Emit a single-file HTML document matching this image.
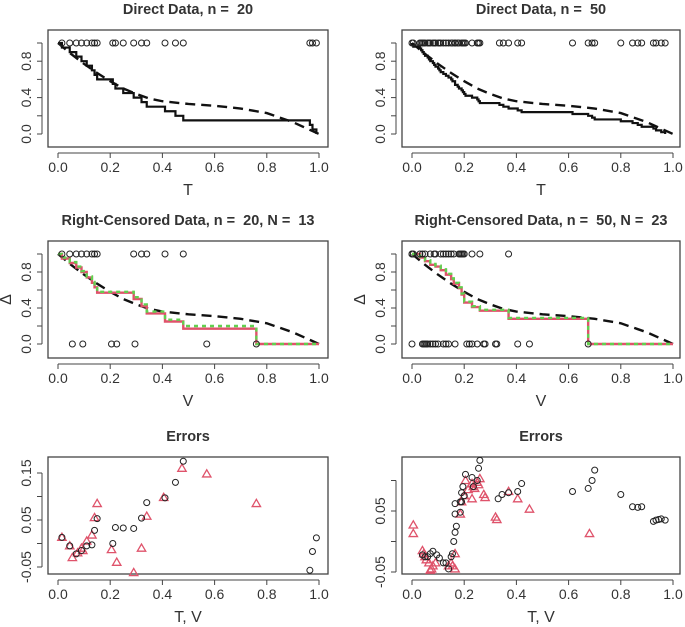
<!DOCTYPE html>
<html><head><meta charset="utf-8">
<style>
html,body{margin:0;padding:0;background:#fff;}
svg{display:block;font-family:"Liberation Sans",Arial,sans-serif;}
text{white-space:pre;}
</style></head>
<body>
<svg id="fig" width="685" height="627" viewBox="0 0 685 627" xmlns="http://www.w3.org/2000/svg"></svg>
<script>
// ---------- data ----------
const t20 = [0.015,0.045,0.07,0.09,0.11,0.13,0.14,0.15,0.21,0.22,0.25,0.29,0.32,0.34,0.41,0.45,0.48,0.965,0.975,0.99];
const t50 = [0.0,0.005,0.03,0.035,0.04,0.045,0.05,0.06,0.065,0.07,0.08,0.085,0.09,0.10,0.105,0.11,0.12,0.13,0.14,0.15,0.155,0.165,0.165,0.175,0.18,0.19,0.195,0.2,0.205,0.23,0.25,0.255,0.26,0.335,0.35,0.37,0.405,0.42,0.615,0.675,0.69,0.7,0.8,0.845,0.865,0.88,0.925,0.935,0.955,0.97];
const trueX = [0,0.05,0.1,0.15,0.2,0.25,0.3,0.35,0.4,0.5,0.6,0.7,0.8,0.9,1.0];
const trueY = [1,0.88,0.77,0.67,0.58,0.5,0.44,0.39,0.36,0.33,0.31,0.28,0.23,0.13,0];
// right-censored n=20
const v20Obs = [0.015,0.045,0.07,0.09,0.11,0.13,0.14,0.15,0.29,0.32,0.34,0.41,0.48];
const v20Cen = [0.055,0.095,0.205,0.225,0.295,0.57,0.76];
const km20T = [0,0.015,0.045,0.07,0.09,0.11,0.13,0.14,0.15,0.29,0.32,0.34,0.41,0.48,0.76,1.0];
const km20Red = [1,0.95,0.90,0.85,0.80,0.74,0.68,0.63,0.57,0.50,0.42,0.34,0.25,0.17,0,0];
const km20Green = [1,0.96,0.91,0.86,0.81,0.75,0.69,0.64,0.58,0.52,0.44,0.36,0.27,0.20,0,0];
// right-censored n=50
const v50Obs = [0.0,0.0,0.005,0.03,0.04,0.05,0.07,0.085,0.09,0.11,0.12,0.13,0.14,0.15,0.16,0.18,0.185,0.19,0.195,0.2,0.23,0.26,0.37];
const v50Cen = [0.0,0.04,0.045,0.05,0.055,0.06,0.07,0.08,0.09,0.1,0.12,0.13,0.14,0.165,0.21,0.22,0.23,0.25,0.275,0.28,0.32,0.325,0.405,0.45,0.675];
const km50T = [0,0.03,0.05,0.07,0.09,0.11,0.13,0.15,0.16,0.18,0.19,0.2,0.23,0.26,0.37,0.675,1.0];
const km50Red = [1,0.96,0.92,0.88,0.86,0.82,0.77,0.72,0.67,0.62,0.55,0.46,0.41,0.37,0.28,0,0];
const km50Green = [1,0.97,0.93,0.89,0.87,0.83,0.78,0.73,0.68,0.63,0.56,0.47,0.42,0.38,0.29,0,0];
// errors n=20
const err20BX = t20;
const err20BY = [0.013,-0.005,-0.022,-0.015,-0.005,-0.003,0.028,0.053,0.0,0.034,0.033,0.032,0.054,0.087,0.097,0.13,0.175,-0.057,-0.017,0.012];
const err20RX = [0.015,0.045,0.055,0.075,0.09,0.095,0.11,0.13,0.14,0.15,0.205,0.225,0.29,0.32,0.34,0.405,0.475,0.57,0.76];
const err20RY = [0.013,-0.005,-0.03,-0.02,-0.01,-0.015,0.005,0.018,0.055,0.085,-0.013,-0.04,-0.062,-0.01,0.058,0.098,0.16,0.148,0.085];
// errors n=50
const err50BX = [0.26,0.255,0.205,0.23,0.25,0.195,0.235,0.19,0.2,0.185,0.19,0.165,0.165,0.185,0.17,0.165,0.16,0.155,0.15,0.14,0.13,0.12,0.105,0.095,0.08,0.07,0.06,0.05,0.04,0.33,0.345,0.37,0.405,0.42,0.615,0.675,0.69,0.7,0.8,0.845,0.865,0.88,0.925,0.935,0.945,0.955,0.97];
const err50BY = [0.133,0.12,0.11,0.105,0.1,0.09,0.09,0.08,0.075,0.065,0.065,0.062,0.045,0.048,0.025,0.015,0.0,-0.02,-0.025,-0.045,-0.035,-0.035,-0.027,-0.022,-0.016,-0.02,-0.025,-0.025,-0.022,0.07,0.077,0.08,0.082,0.095,0.082,0.087,0.1,0.117,0.077,0.057,0.056,0.057,0.033,0.035,0.036,0.037,0.035];
const err50RX = [0.005,0.005,0.04,0.045,0.05,0.055,0.065,0.075,0.08,0.09,0.07,0.14,0.15,0.155,0.165,0.165,0.185,0.19,0.2,0.205,0.215,0.23,0.235,0.24,0.25,0.255,0.26,0.275,0.28,0.32,0.325,0.37,0.405,0.45,0.68,0.23];
const err50RY = [0.027,0.013,-0.015,-0.02,-0.025,-0.03,-0.035,-0.045,-0.04,-0.035,-0.047,-0.04,-0.035,-0.04,-0.045,-0.02,0.045,0.065,0.075,0.1,0.085,0.095,0.09,0.087,0.097,0.093,0.103,0.077,0.072,0.04,0.036,0.082,0.07,0.053,0.013,0.07];
const xTicks = [0,0.2,0.4,0.6,0.8,1.0];
const xTickLabels = ["0.0","0.2","0.4","0.6","0.8","1.0"];
const yTicks01 = [0,0.2,0.4,0.6,0.8,1.0];
const yTickLabels01 = {"0":"0.0","0.4":"0.4","0.8":"0.8"};

// ---------- drawing ----------
const NS = "http://www.w3.org/2000/svg";
const svg = document.getElementById("fig");
const RED = "#DF536B", GREEN = "#61D04F", TXT = "#333";
function mk(tag, attrs, parent){
  const e = document.createElementNS(NS, tag);
  for (const k in attrs) e.setAttribute(k, attrs[k]);
  (parent||svg).appendChild(e);
  return e;
}
function panel(o){
  const g = mk("g", {});
  
  
  const sx = v => o.x0 + (v - o.xd[0]) / (o.xd[1]-o.xd[0]) * (o.x1 - o.x0);
  const sy = v => o.y0 + (v - o.yd[0]) / (o.yd[1]-o.yd[0]) * (o.y1 - o.y0);
  const title = mk("text", {x:(o.bx0+o.bx1)/2, y:o.ty, "text-anchor":"middle", "font-size":"14.5", "font-weight":"bold", fill:TXT}, g);
  title.textContent = o.title;
  
  
  const box = mk("rect", {x:o.bx0, y:o.by0, width:o.bx1-o.bx0, height:o.by1-o.by0, fill:"none", stroke:"#444", "stroke-width":"1.3"}, g);
  
  
  const xa = mk("g", {}, g);
  
  
  mk("line", {x1:sx(0), x2:sx(1), y1:o.by1+6, y2:o.by1+6, stroke:"#444"}, xa);
  xTicks.forEach((t,i)=>{
    mk("line", {x1:sx(t), x2:sx(t), y1:o.by1+6, y2:o.by1+11, stroke:"#444"}, xa);
    const tl = mk("text", {x:sx(t), y:o.by1+25, "text-anchor":"middle", "font-size":"14", fill:TXT}, xa);
    tl.textContent = xTickLabels[i];
    
    
  });
  const xt = mk("text", {x:(o.bx0+o.bx1)/2, y:o.by1+48, "text-anchor":"middle", "font-size":"16", fill:TXT}, g);
  xt.textContent = o.xlab;
  
  
  const ya = mk("g", {}, g);
  
  
  const ax = o.bx0 - 6;
  mk("line", {x1:ax, x2:ax, y1:sy(o.yTicks[0]), y2:sy(o.yTicks[o.yTicks.length-1]), stroke:"#444"}, ya);
  o.yTicks.forEach(t=>{
    mk("line", {x1:ax-5, x2:ax, y1:sy(t), y2:sy(t), stroke:"#444"}, ya);
    const lab = o.yLabels[String(t)];
    if (lab){
      const tl = mk("text", {x:ax-11, y:sy(t), "text-anchor":"middle", "font-size":"14", fill:TXT, transform:`rotate(-90 ${ax-11} ${sy(t)})`}, ya);
      tl.textContent = lab;
      
      
    }
  });
  if (o.ylab){
    const yt = mk("text", {x:o.bx0-37, y:(o.by0+o.by1)/2, "text-anchor":"middle", "font-size":"16", fill:TXT, transform:`rotate(-90 ${o.bx0-37} ${(o.by0+o.by1)/2})`}, g);
    yt.textContent = o.ylab;
    
    
  }
  return {g, sx, sy};
}
function stepPath(xs, ys, sx, sy){
  let d = `M${sx(xs[0])},${sy(ys[0])}`;
  for (let i=1;i<xs.length;i++){ d += ` L${sx(xs[i])},${sy(ys[i-1])} L${sx(xs[i])},${sy(ys[i])}`; }
  return d;
}
function ecdfSteps(ts){
  const s = ts.slice().sort((a,b)=>a-b);
  const xs=[0], ys=[1];
  s.forEach((t,i)=>{ xs.push(t); ys.push(1-(i+1)/s.length); });
  return {xs, ys};
}
function linePath(xs, ys, sx, sy){
  return xs.map((x,i)=>(i?"L":"M")+sx(x)+","+sy(ys[i])).join(" ");
}
function circles(g, xs, ys, sx, sy, name){
  xs.forEach((x,i)=>{
    const c = mk("circle", {cx:sx(x), cy:sy(ys[i]), r:3, fill:"none", stroke:"#222", "stroke-width":"1"}, g);
    
    
  });
}
function triangles(g, xs, ys, sx, sy, name){
  xs.forEach((x,i)=>{
    const cx=sx(x), cy=sy(ys[i]);
    const p = mk("polygon", {points:`${cx},${cy-4.2} ${cx-4.2},${cy+3} ${cx+4.2},${cy+3}`, fill:"none", stroke:RED, "stroke-width":"1.3"}, g);
    
    
  });
}
function dashed(g, sx, sy){
  const p = mk("path", {d:linePath(trueX,trueY,sx,sy), fill:"none", stroke:"#111", "stroke-width":"2.4", "stroke-dasharray":"10 6"}, g);
  
  
}

const L = {bx0:48, bx1:328, x0:58, x1:319};
const R = {bx0:402, bx1:680, x0:412, x1:673};

[{c:L, t:t20, title:"Direct Data, n =  20", name:"panel-direct-20"},
 {c:R, t:t50, title:"Direct Data, n =  50", name:"panel-direct-50"}].forEach(s=>{
  const P = panel(Object.assign({}, s.c, {name:s.name, title:s.title, ty:14, by0:30, by1:147, y0:134, y1:43, xd:[0,1], yd:[0,1], yTicks:yTicks01, yLabels:yTickLabels01, xlab:"T"}));
  dashed(P.g, P.sx, P.sy);
  const st = ecdfSteps(s.t);
  const p = mk("path", {d:stepPath(st.xs, st.ys, P.sx, P.sy), fill:"none", stroke:"#111", "stroke-width":"2.2"}, P.g);
  
  
  circles(P.g, s.t, s.t.map(()=>1), P.sx, P.sy, 'observation-point');
});

[{c:L, obs:v20Obs, cen:v20Cen, kt:km20T, kr:km20Red, kg:km20Green, title:"Right-Censored Data, n =  20, N =  13", name:"panel-censored-20"},
 {c:R, obs:v50Obs, cen:v50Cen, kt:km50T, kr:km50Red, kg:km50Green, title:"Right-Censored Data, n =  50, N =  23", name:"panel-censored-50"}].forEach(s=>{
  const P = panel(Object.assign({}, s.c, {name:s.name, title:s.title, ty:225, by0:241, by1:358, y0:344, y1:254, xd:[0,1], yd:[0,1], yTicks:yTicks01, yLabels:yTickLabels01, xlab:"V", ylab:"Δ"}));
  dashed(P.g, P.sx, P.sy);
  const r = mk("path", {d:stepPath(s.kt, s.kr, P.sx, P.sy), fill:"none", stroke:RED, "stroke-width":"2.4"}, P.g);
  
  
  const gr = mk("path", {d:stepPath(s.kt, s.kg, P.sx, P.sy), fill:"none", stroke:GREEN, "stroke-width":"2.4", "stroke-dasharray":"4 4"}, P.g);
  
  
  circles(P.g, s.obs, s.obs.map(()=>1), P.sx, P.sy, 'uncensored-point');
  circles(P.g, s.cen, s.cen.map(()=>0), P.sx, P.sy, 'censored-point');
});

{
  const P = panel(Object.assign({}, L, {name:"panel-errors-20", title:"Errors", ty:441, by0:457, by1:574, y0:567, y1:473, xd:[0,1], yd:[-0.05,0.15], yTicks:[-0.05,0,0.05,0.1,0.15], yLabels:{"-0.05":"-0.05","0.05":"0.05","0.15":"0.15"}, xlab:"T, V"}));
  triangles(P.g, err20RX, err20RY, P.sx, P.sy, 'error-censored-triangle');
  circles(P.g, err20BX, err20BY, P.sx, P.sy, 'error-direct-circle');
}
{
  const P = panel(Object.assign({}, R, {name:"panel-errors-50", title:"Errors", ty:441, by0:457, by1:574, y0:572, y1:511, xd:[0,1], yd:[-0.05,0.05], yTicks:[-0.05,0,0.05,0.1], yLabels:{"-0.05":"-0.05","0.05":"0.05"}, xlab:"T, V"}));
  triangles(P.g, err50RX, err50RY, P.sx, P.sy, 'error-censored-triangle');
  circles(P.g, err50BX, err50BY, P.sx, P.sy, 'error-direct-circle');
}
</script>
</body></html>
